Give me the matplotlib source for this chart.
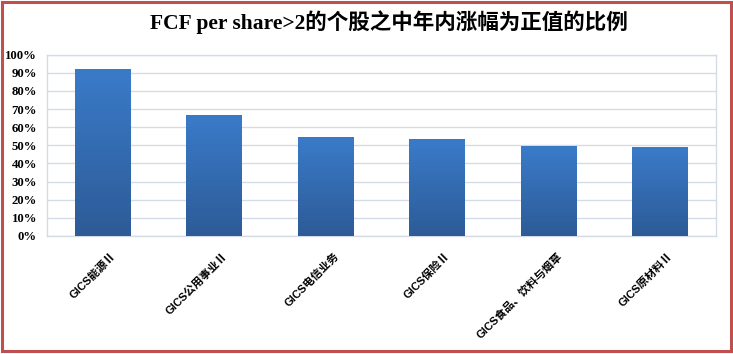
import numpy as np
import matplotlib
matplotlib.use('Agg')
import matplotlib.pyplot as plt
import matplotlib.transforms as mtransforms
from matplotlib.patches import Rectangle
from matplotlib.colors import LinearSegmentedColormap

categories = ['GICS能源Ⅱ', 'GICS公用事业Ⅱ', 'GICS电信业务', 'GICS保险Ⅱ',
              'GICS食品、饮料与烟草', 'GICS原材料Ⅱ']
ratios = [0.921, 0.667, 0.546, 0.535, 0.496, 0.491]
yticks = [0.0, 0.1, 0.2, 0.3, 0.4, 0.5, 0.6, 0.7, 0.8, 0.9, 1.0]
title = 'FCF per share>2的个股之中年内涨幅为正值的比例'

W, H = 733, 354
fig = plt.figure(figsize=(W / 100, H / 100), dpi=100)
fig.patch.set_facecolor('white')

# plot area in pixel coords
x0, x1, ytop, ybot = 46.7, 715.7, 54.7, 236
ax = fig.add_axes([x0 / W, 1 - ybot / H, (x1 - x0) / W, (ybot - ytop) / H])

x = np.arange(len(categories))
bars = ax.bar(x, ratios, width=0.5, color='none', edgecolor='none', zorder=3)

grad = LinearSegmentedColormap.from_list('g', ['#2D5B97', '#3A7BC9'])
g = np.linspace(0, 1, 256).reshape(-1, 1)
for b in bars:
    bx, by, bw, bh = b.get_x(), b.get_y(), b.get_width(), b.get_height()
    im = ax.imshow(g, cmap=grad, origin='lower', aspect='auto',
                   extent=[bx, bx + bw, by, by + bh], zorder=3)
    im.set_clip_path(b)

ax.set_xlim(-0.5, len(categories) - 0.5)
ax.set_ylim(0, 1)
ax.set_yticks(yticks)
ax.set_yticklabels(['{:.0f}%'.format(v * 100) for v in yticks],
                   fontfamily=['Liberation Serif'], fontweight='bold', fontsize=9.2)
ax.yaxis.grid(True, color='#D3DCE6', linewidth=1, zorder=0)
ax.set_axisbelow(True)
ax.tick_params(axis='both', length=0)
ax.tick_params(axis='y', pad=7)

ax.set_xticks(x)
ax.set_xticklabels(categories, rotation=45, ha='right', va='top', rotation_mode='anchor',
                   fontfamily=['Liberation Sans', 'Noto Sans CJK SC'],
                   fontweight='bold', fontsize=8)
off = mtransforms.ScaledTranslation(8 / 100, -10 / 100, fig.dpi_scale_trans)
for lab in ax.get_xticklabels():
    lab.set_transform(lab.get_transform() + off)

for s in ax.spines.values():
    s.set_color('#D3DCE6')
    s.set_linewidth(1)

fig.text(389 / W, 1 - 22 / H, title, ha='center', va='center', fontsize=15.5,
         fontweight='bold', family=['Liberation Serif', 'Noto Sans CJK SC'])

# outer chart border
fig.patches.append(Rectangle((1.5 / W, 3.5 / H), 729.5 / W, 349 / H, transform=fig.transFigure,
                             fill=False, edgecolor='#C0504D', linewidth=2.2))

fig.savefig('out.png', dpi=100)
